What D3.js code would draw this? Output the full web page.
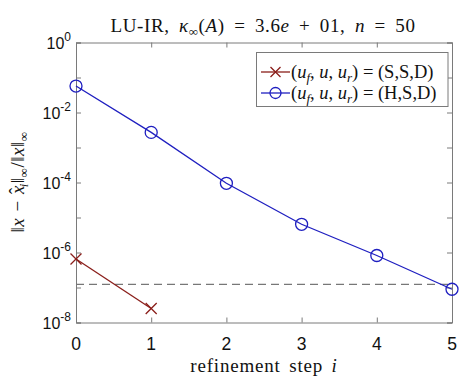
<!DOCTYPE html>
<html><head><meta charset="utf-8">
<script src="https://cdn.jsdelivr.net/npm/d3@7"></script>
<style>body{margin:0;background:#fff}svg{display:block}</style>
</head><body>
<script>
const steps = [0,1,2,3,4,5];
const seriesSSD = [6.5e-7, 2.5e-8];
const seriesHSD = [5.7e-2, 2.7e-3, 9.5e-5, 6.4e-6, 8.2e-7, 8.9e-8];
const thresholdLine = 1.23e-7;
const yTickExps = [0,-1,-2,-3,-4,-5,-6,-7,-8];
const yLabelExps = [0,-2,-4,-6,-8];
const xTicks = [0,1,2,3,4,5];

const W=474,H=391;
const m={l:76,r:452,t:42.5,b:322.5};
const svg=d3.select("body").append("svg").attr("width",W).attr("height",H);
svg.append("rect").attr("width",W).attr("height",H).attr("fill","#fff");
const x=d3.scaleLinear().domain([0,5]).range([m.l,m.r]);
const y=d3.scaleLog().domain([1e-8,1]).range([m.b,m.t]);
const axisCol="#7a7a7a";
const red="#8a1e1a", blue="#1f1fc0";

// axes
const ax=svg.append("g").attr("transform",`translate(0,${m.b})`)
 .call(d3.axisBottom(x).tickValues(xTicks).tickSize(-5).tickFormat(""));
const axT=svg.append("g").attr("transform",`translate(0,${m.t})`)
 .call(d3.axisTop(x).tickValues(xTicks).tickSize(-5).tickFormat(""));
const ayL=svg.append("g").attr("transform",`translate(${m.l},0)`)
 .call(d3.axisLeft(y).tickValues(yTickExps.map(e=>Math.pow(10,e))).tickSize(-5).tickFormat(""));
const ayR=svg.append("g").attr("transform",`translate(${m.r},0)`)
 .call(d3.axisRight(y).tickValues(yTickExps.map(e=>Math.pow(10,e))).tickSize(-5).tickFormat(""));
[ax,axT,ayL,ayR].forEach(g=>{g.selectAll("path,line").attr("stroke",axisCol).attr("stroke-width",1);});

// tick labels
svg.append("g").selectAll("text").data(xTicks).join("text")
 .attr("x",d=>x(d)).attr("y",m.b+27).attr("text-anchor","middle")
 .attr("font-family","Liberation Sans, Arial, sans-serif").attr("font-size",17.5).attr("fill","#111").text(d=>d);
const yl=svg.append("g").selectAll("text").data(yLabelExps).join("text")
 .attr("x",m.l-5).attr("y",d=>y(Math.pow(10,d))+6).attr("text-anchor","end")
 .attr("font-family","Liberation Sans, Arial, sans-serif").attr("font-size",16).attr("fill","#111");
yl.append("tspan").text("10");
yl.append("tspan").attr("dy",-8).attr("font-size",12).text(d=>d===0?"0":"-"+(-d));

// dashed line
svg.append("line").attr("x1",m.l).attr("x2",m.r).attr("y1",y(thresholdLine)).attr("y2",y(thresholdLine))
 .attr("stroke","#777").attr("stroke-width",1.2).attr("stroke-dasharray","8,5");

// lines
const line=d3.line().x((d,i)=>x(steps[i])).y(d=>y(d));
svg.append("path").datum(seriesSSD).attr("d",line).attr("fill","none").attr("stroke",red).attr("stroke-width",1.3);
svg.append("path").datum(seriesHSD).attr("d",line).attr("fill","none").attr("stroke",blue).attr("stroke-width",1.3);
function cross(g,cx,cy,s,col){
 g.append("path").attr("d",`M${cx-s},${cy-s}L${cx+s},${cy+s}M${cx-s},${cy+s}L${cx+s},${cy-s}`).attr("stroke",col).attr("stroke-width",1.3).attr("fill","none");
}
const mk=svg.append("g");
seriesSSD.forEach((d,i)=>cross(mk,x(steps[i]),y(d),5.5,red));
mk.selectAll("circle").data(seriesHSD).join("circle").attr("cx",(d,i)=>x(steps[i])).attr("cy",d=>y(d)).attr("r",6)
 .attr("fill","none").attr("stroke",blue).attr("stroke-width",1.3);

function fit(sel,target,ls,maxWs){
 const n=sel.node();
 sel.attr("letter-spacing",ls);
 const w=n.getComputedTextLength();
 const sp=(n.textContent.match(/ /g)||[]).length;
 if(sp>0 && target>w) sel.attr("word-spacing",Math.min(maxWs,(target-w)/sp).toFixed(2));
}

// title
const serif="Liberation Serif, Times New Roman, serif";
const fs=18.5, fsub=13;
const t=svg.append("text").attr("x",263).attr("y",32).attr("text-anchor","middle").attr("font-family",serif).attr("font-size",19).attr("fill","#111");
t.append("tspan").text("LU-IR, ");
t.append("tspan").attr("font-style","italic").text("κ");
t.append("tspan").attr("dy",4).attr("font-size",fsub).text("∞");
t.append("tspan").attr("dy",-4).text("(");
t.append("tspan").attr("font-style","italic").text("A");
t.append("tspan").text(") = 3.6");
t.append("tspan").attr("font-style","italic").text("e");
t.append("tspan").text(" + 01, ");
t.append("tspan").attr("font-style","italic").text("n");
t.append("tspan").text(" = 50");
fit(t,305,0.6,5);

// x label
const xl=svg.append("text").attr("x",264).attr("y",372).attr("text-anchor","middle").attr("font-family",serif).attr("font-size",19).attr("fill","#111");
xl.append("tspan").text("refinement step ");
xl.append("tspan").attr("font-style","italic").text("i");
fit(xl,150,0.8,3);

// y label
const yg=svg.append("text").attr("transform","translate(24,182) rotate(-90)").attr("text-anchor","middle").attr("font-family",serif).attr("font-size",19).attr("fill","#111");
yg.append("tspan").text("‖");
yg.append("tspan").attr("font-style","italic").text("x");
yg.append("tspan").text(" − ");
yg.append("tspan").attr("font-style","italic").text("x");
yg.append("tspan").attr("dx",-9).attr("dy",-2).text("ˆ");
yg.append("tspan").attr("dy",6).attr("font-size",fsub).attr("font-style","italic").text("i");
yg.append("tspan").attr("dy",-4).text("‖");
yg.append("tspan").attr("dy",4).attr("font-size",fsub).text("∞");
yg.append("tspan").attr("dy",-4).text("/‖");
yg.append("tspan").attr("font-style","italic").text("x");
yg.append("tspan").text("‖");
yg.append("tspan").attr("dy",4).attr("font-size",fsub).text("∞");
fit(yg,142,0.5,1);

// legend
const lg=svg.append("g");
lg.append("rect").attr("x",256.5).attr("y",52.5).attr("width",191.5).attr("height",54).attr("fill","#fff").attr("stroke",axisCol).attr("stroke-width",1);
const legItems=[{col:red,lab:"S,S,D",m:"x",yy:72},{col:blue,lab:"H,S,D",m:"o",yy:93}];
legItems.forEach(it=>{
 lg.append("line").attr("x1",261).attr("x2",290).attr("y1",it.yy).attr("y2",it.yy).attr("stroke",it.col).attr("stroke-width",1.3);
 if(it.m==="x") cross(lg,275.5,it.yy,5,it.col);
 else lg.append("circle").attr("cx",275.5).attr("cy",it.yy).attr("r",5.5).attr("fill","none").attr("stroke",it.col).attr("stroke-width",1.3);
 const tx=lg.append("text").attr("x",291).attr("y",it.yy+6).attr("font-family",serif).attr("font-size",fs).attr("fill","#111");
 tx.append("tspan").text("(");
 tx.append("tspan").attr("font-style","italic").text("u");
 tx.append("tspan").attr("dy",4).attr("font-size",fsub).attr("font-style","italic").text("f");
 tx.append("tspan").attr("dy",-4).text(", ");
 tx.append("tspan").attr("font-style","italic").text("u");
 tx.append("tspan").text(", ");
 tx.append("tspan").attr("font-style","italic").text("u");
 tx.append("tspan").attr("dy",4).attr("font-size",fsub).attr("font-style","italic").text("r");
 tx.append("tspan").attr("dy",-4).text(") = ("+it.lab+")");
 fit(tx,138,0,3);
});
</script>
</body></html>
